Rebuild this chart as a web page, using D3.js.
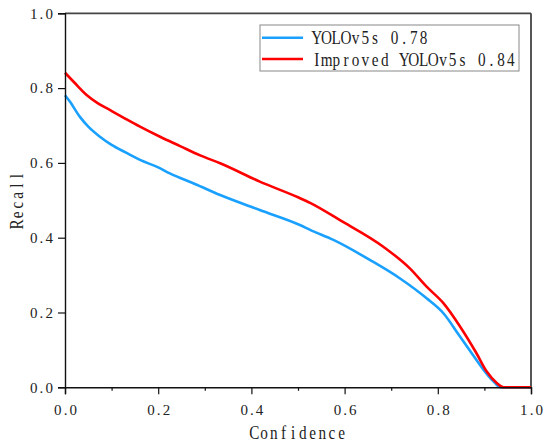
<!DOCTYPE html>
<html><head><meta charset="utf-8">
<script src="https://cdn.jsdelivr.net/npm/d3@7/dist/d3.min.js"></script>
<style>
html,body{margin:0;padding:0;background:#fff;}
text{font-family:"Liberation Serif",serif;fill:#222;}
</style></head>
<body>
<svg id="chart" width="550" height="448"></svg>
<script>
const xTicks = [0, 0.2, 0.4, 0.6, 0.8, 1.0];
const xMinorTicks = [0.1, 0.3, 0.5, 0.7, 0.9];
const yTicks = [0, 0.2, 0.4, 0.6, 0.8, 1.0];
const seriesNames = ["YOLOv5s 0.78", "Improved YOLOv5s 0.84"];
const seriesColors = ["#1AA0FF", "#FF0000"];
const baseConf = [0, 0.01, 0.032, 0.05, 0.075, 0.1, 0.13, 0.161, 0.2, 0.225, 0.28, 0.333, 0.418, 0.504, 0.526, 0.576, 0.655, 0.719, 0.776, 0.812, 0.848, 0.883, 0.905, 0.923, 0.933, 1.0];
const baseRecall = [0.781, 0.765, 0.723, 0.697, 0.670, 0.648, 0.628, 0.608, 0.588, 0.572, 0.543, 0.514, 0.474, 0.434, 0.421, 0.394, 0.340, 0.291, 0.238, 0.198, 0.135, 0.073, 0.036, 0.011, 0.0, 0.0];
const impConf = [0, 0.02, 0.047, 0.07, 0.097, 0.13, 0.161, 0.204, 0.247, 0.29, 0.333, 0.418, 0.5, 0.526, 0.59, 0.683, 0.74, 0.776, 0.812, 0.848, 0.883, 0.905, 0.927, 0.941, 1.0];
const impRecall = [0.841, 0.815, 0.781, 0.760, 0.741, 0.718, 0.697, 0.670, 0.645, 0.620, 0.599, 0.550, 0.508, 0.493, 0.447, 0.376, 0.318, 0.269, 0.225, 0.162, 0.091, 0.042, 0.011, 0.0, 0.0];

const svg = d3.select("#chart");
const L = 65, R = 531, T = 13.3, B = 387.3;
const CHAR_W = 9.7, TICK_CHAR_W = 7.7, SX = 0.8;
const x = d3.scaleLinear().domain([0, 1]).range([L, R]);
const y = d3.scaleLinear().domain([0, 1]).range([B, T]);

// emulate half-width monospaced CJK-font Latin: each glyph centred in a fixed cell
function monoX(str, left, w, sx = 1) {
  return Array.from(str).map((c, i) => ((left + (i + 0.5) * w) / sx).toFixed(2)).join(" ");
}

// frame top/right
svg.append("line").attr("x1", L).attr("x2", R).attr("y1", T).attr("y2", T).attr("stroke", "#444").attr("stroke-width", 1.8);
svg.append("line").attr("x1", R).attr("x2", R).attr("y1", T).attr("y2", B).attr("stroke", "#444").attr("stroke-width", 1.8);

// series
const series = [
  baseConf.map((c, i) => [c, baseRecall[i]]),
  impConf.map((c, i) => [c, impRecall[i]])
];
const line = d3.line().x(d => x(d[0])).y(d => y(d[1])).curve(d3.curveMonotoneX);
series.forEach((s, i) => {
  svg.append("path").datum(s).attr("d", line).attr("fill", "none")
    .attr("stroke", seriesColors[i]).attr("stroke-width", 2.6).attr("stroke-linejoin", "round");
});

// axes
const fmt = d3.format(".1f");
const xAxis = svg.append("g").attr("transform", `translate(0,${B})`)
  .call(d3.axisBottom(x).tickValues(xTicks).tickFormat(fmt).tickSize(7).tickPadding(10));
const xMinor = svg.append("g").attr("transform", `translate(0,${B})`)
  .call(d3.axisBottom(x).tickValues(xMinorTicks).tickFormat("").tickSize(3.5));
xMinor.select(".domain").remove();
const yAxis = svg.append("g").attr("transform", `translate(${L},0)`)
  .call(d3.axisLeft(y).tickValues(yTicks).tickFormat(fmt).tickSize(7).tickPadding(5));
[xAxis, xMinor, yAxis].forEach(g => {
  g.selectAll("line").attr("stroke", "#111").attr("stroke-width", 1.2);
  g.selectAll(".domain").attr("stroke", "#111").attr("stroke-width", 1.4);
  g.selectAll("text").style("font-family", '"Liberation Serif",serif').style("font-size", "15px").attr("fill", "#222");
});
xAxis.selectAll(".tick text").each(function () {
  const s = this.textContent;
  d3.select(this).attr("text-anchor", "middle").attr("x", monoX(s, -s.length * TICK_CHAR_W / 2, TICK_CHAR_W));
});
yAxis.selectAll(".tick text").each(function () {
  const s = this.textContent;
  d3.select(this).attr("text-anchor", "middle").attr("x", monoX(s, -12 - s.length * TICK_CHAR_W, TICK_CHAR_W));
});

// axis titles
const xt = "Confidence";
svg.append("text").attr("y", 439).attr("text-anchor", "middle")
  .attr("transform", `scale(${SX},1)`)
  .attr("x", monoX(xt, (L + R) / 2 - xt.length * CHAR_W / 2, CHAR_W, SX))
  .style("font-size", "19px").text(xt);
const yt = "Recall";
svg.append("text").attr("transform", `translate(23,${(T + B) / 2}) rotate(-90) scale(${SX},1)`).attr("text-anchor", "middle")
  .attr("x", monoX(yt, -yt.length * CHAR_W / 2, CHAR_W, SX)).attr("y", 0)
  .style("font-size", "19px").text(yt);

// legend
const lg = svg.append("g");
lg.append("rect").attr("x", 260).attr("y", 25).attr("width", 259).attr("height", 46)
  .attr("fill", "#fff").attr("stroke", "#888").attr("stroke-width", 1);
const legY = [37.7, 59];
seriesNames.forEach((n, i) => {
  lg.append("line").attr("x1", 262).attr("x2", 303).attr("y1", legY[i]).attr("y2", legY[i])
    .attr("stroke", seriesColors[i]).attr("stroke-width", 2.6);
  lg.append("text").attr("transform", `scale(${SX},1)`)
    .attr("x", monoX(n, 312, CHAR_W, SX)).attr("y", legY[i]).attr("dy", "0.35em")
    .attr("text-anchor", "middle").style("font-size", "19px").text(n);
});
</script>
</body></html>
